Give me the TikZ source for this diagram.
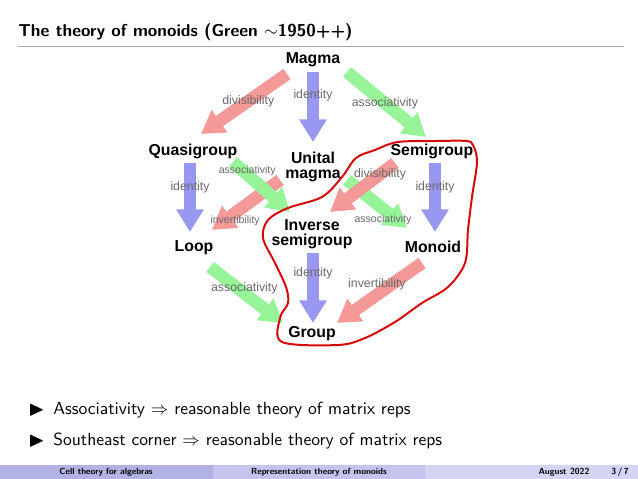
\documentclass[tikz,border=0pt]{standalone}
\usepackage{amssymb}
\usepackage{fontspec}
\usetikzlibrary{arrows.meta}
\newfontfamily\diafont{Liberation Sans}

\definecolor{arrred}{RGB}{245,152,152}
\definecolor{arrblue}{RGB}{152,152,242}
\definecolor{arrgreen}{RGB}{152,244,152}
\definecolor{labgray}{RGB}{105,105,105}
\definecolor{loopred}{RGB}{215,10,10}
\definecolor{footA}{RGB}{178,178,228}
\definecolor{footB}{RGB}{196,196,238}
\definecolor{footC}{RGB}{212,212,245}

\tikzset{
  bigarrow/.style={line width=2.5mm,-{Triangle[width=5.2mm,length=4.5mm]}},
  redarr/.style={bigarrow,draw=arrred},
  bluearr/.style={bigarrow,draw=arrblue},
  greenarr/.style={bigarrow,draw=arrgreen},
  obj/.style={font=\diafont\bfseries\fontsize{9}{8.6}\selectfont,align=center,inner sep=0pt},
  lbl/.style={font=\diafont\fontsize{7}{8}\selectfont,text=labgray,inner sep=0pt},
  smalllbl/.style={font=\diafont\fontsize{6}{7}\selectfont,text=labgray,inner sep=0pt},
  foot/.style={font=\sffamily\bfseries\fontsize{5}{6}\selectfont,inner sep=0pt},
  itemtext/.style={anchor=base west,inner sep=0pt,font=\sffamily\fontsize{10}{12}\selectfont},
  bullet/.style={anchor=base west,inner sep=0pt,font=\fontsize{12}{14}\selectfont},
}

\begin{document}
\begin{tikzpicture}[x=0.2mm,y=-0.2mm]
  \useasboundingbox (0,0) rectangle (638,479);

  % frame title
  \node[anchor=base west,inner sep=0pt,font=\sffamily\bfseries\fontsize{9.8}{12}\selectfont] (title) at (18,37) {The theory of monoids (Green $\sim$1950++)};
  \draw[gray!70,line width=0.2mm] (18,47) -- (624,47);

  % the structures
  \node[obj] (magma) at (313,60) {Magma};
  \node[obj] (quasi) at (193,151) {Quasigroup};
  \node[obj] (unital) at (313,167) {Unital\\magma};
  \node[obj] (semi) at (432,151) {Semigroup};
  \node[obj] (loop) at (194,248) {Loop};
  \node[obj] (inverse) at (312,234) {Inverse\\semigroup};
  \node[obj] (monoid) at (433,247) {Monoid};
  \node[obj] (group) at (312,334) {Group};

  % arrows
  \draw[redarr] ([shift={(-26,14)}]magma.center) -- ([shift={(8,-17)}]quasi.center) node[lbl,pos=0.45] {divisibility};
  \draw[bluearr] ([shift={(0,12)}]magma.center) -- ([shift={(0,-25)}]unital.center) node[lbl,pos=0.34] {identity};
  \draw[greenarr] ([shift={(34,12)}]magma.center) -- ([shift={(-6,-14)}]semi.center) node[lbl,pos=0.48] {associativity};
  \draw[bluearr] ([shift={(-3,12)}]quasi.center) -- ([shift={(-4,-16)}]loop.center) node[lbl,pos=0.35] {identity};
  \draw[redarr] ([shift={(-33,13)}]unital.center) -- ([shift={(18,-18)}]loop.center) node[smalllbl,pos=0.66,yshift=-1.6mm] {invertibility};
  \draw[greenarr] ([shift={(40,11)}]quasi.center) -- ([shift={(-22,-22)}]inverse.center) node[smalllbl,pos=0.25,yshift=0.8mm] {associativity};
  \draw[greenarr] ([shift={(34,13)}]unital.center) -- ([shift={(-26,-19)}]monoid.center) node[smalllbl,pos=0.6,yshift=-2.2mm] {associativity};
  \draw[redarr] ([shift={(-37,12)}]semi.center) -- ([shift={(18,-22)}]inverse.center) node[lbl,pos=0.23] {divisibility};
  \draw[bluearr] ([shift={(3,12)}]semi.center) -- ([shift={(2,-15)}]monoid.center) node[lbl,pos=0.35] {identity};
  \draw[greenarr] ([shift={(16,19)}]loop.center) -- ([shift={(-29,-11)}]group.center) node[lbl,pos=0.47,yshift=1mm] {associativity};
  \draw[bluearr] ([shift={(1,19)}]inverse.center) -- ([shift={(1,-11)}]group.center) node[lbl,pos=0.29] {identity};
  \draw[redarr] ([shift={(-11,16)}]monoid.center) -- ([shift={(25,-11)}]group.center) node[lbl,pos=0.53,yshift=2mm] {invertibility};

  % the southeast corner
  \draw[loopred,line width=0.4mm] plot[smooth cycle,tension=0.55] coordinates {
    (473,145) (477,162) (472,197) (468,230) (465,263) (448,287) (422,303)
    (395,322) (365,338) (338,345) (282,342) (280,318) (288,303) (286,287)
    (275,263) (263,238) (268,220) (288,208) (322,197) (342,177) (356,158)
    (375,150) (398,142) (438,141) (466,141)};

  % bullets
  \node[bullet] (tri1) at (28,416) {$\blacktriangleright$};
  \node[itemtext] (item1) at (53,415) {Associativity $\Rightarrow$ reasonable theory of matrix reps};
  \node[bullet] (tri2) at (28,447) {$\blacktriangleright$};
  \node[itemtext] (item2) at (53,446) {Southeast corner $\Rightarrow$ reasonable theory of matrix reps};

  % footline
  \fill[footA] (0,465) rectangle (213,479);
  \fill[footB] (213,465) rectangle (425,479);
  \fill[footC] (425,465) rectangle (638,479);
  \node[foot] (fleft) at (106,472) {Cell theory for algebras};
  \node[foot] (fmid) at (319,472) {Representation theory of monoids};
  \node[foot] (fdate) at (564,472) {August 2022};
  \node[foot] (fpage) at (620,472) {3\,/\,7};
\end{tikzpicture}
\end{document}
